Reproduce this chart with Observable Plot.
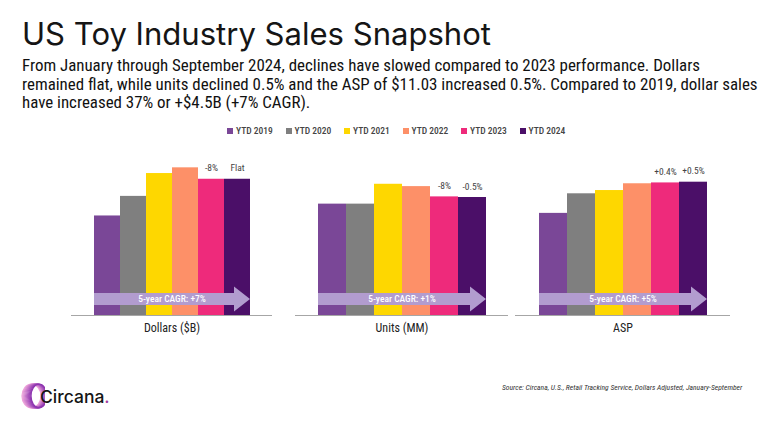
<!DOCTYPE html>
<html>
<head>
<meta charset="utf-8">
<script src="https://cdn.jsdelivr.net/npm/d3@7"></script>
<script src="https://cdn.jsdelivr.net/npm/@observablehq/plot@0.6"></script>
<style>
  body { margin: 0; background: #fff; }
  #page { position: relative; width: 768px; height: 432px; overflow: hidden; background: #fff;
          font-family: "Roboto Condensed", "Liberation Sans Narrow", "DejaVu Sans Condensed", Roboto, sans-serif; color: #111; }
  #title { position: absolute; left: 22px; top: 14px; font-family: Inter, Lato, "Open Sans", sans-serif;
           font-weight: 400; font-size: 31px; line-height: 40px; white-space: nowrap; transform-origin: left top; color: #151515; }
  #subtitle { position: absolute; left: 22px; top: 57px; font-size: 16px; line-height: 18.5px; }
  #subtitle div { white-space: nowrap; transform-origin: left top; }
  #legend { position: absolute; top: 125px; left: 227px; display: flex; font-size: 9.5px; font-weight: 500; color: #444; }
  #legend .item { width: 58.5px; display: flex; align-items: center; white-space: nowrap; }
  #legend .sw { width: 6px; height: 6px; margin-right: 3px; }
  #source { position: absolute; left: 502px; top: 383px; font-size: 7.6px; font-style: italic; color: #333; white-space: nowrap; }
  #logo { position: absolute; left: 21px; top: 383px; display: flex; align-items: center; }
  #logo span { font-family: Inter, "Open Sans", Lato, sans-serif; font-size: 17.5px; font-weight: 500; color: #151515; margin-left: -5px; }
  #logo b { color: #a23c9e; font-weight: 500; }
</style>
</head>
<body>
<div id="page">
  <div id="title"></div>
  <div id="subtitle"></div>
  <div id="legend"></div>
  <div id="panels"></div>
  <div id="logo"></div>
  <div id="source">Source: Circana, U.S., Retail Tracking Service, Dollars Adjusted, January-September</div>
</div>
<script>
// ---- data ----
const years = ["YTD 2019", "YTD 2020", "YTD 2021", "YTD 2022", "YTD 2023", "YTD 2024"];
const yearColors = ["#7a4797", "#7f7f7f", "#fed700", "#fd9068", "#ee2a7b", "#4b0f68"];

const dollars = [12.2, 14.6, 17.4, 18.1, 16.7, 16.7];      // $B
const units = [1430, 1430, 1685, 1655, 1523, 1515];        // MM
const asp = [8.45, 10.07, 10.34, 10.90, 10.97, 11.03];     // $

const dollarsNotes = ["", "", "", "", "-8%", "Flat"];
const unitsNotes = ["", "", "", "", "-8%", "-0.5%"];
const aspNotes = ["", "", "", "", "+0.4%", "+0.5%"];

const panelTitles = ["Dollars ($B)", "Units (MM)", "ASP"];
const cagrLabels = ["5-year CAGR: +7%", "5-year CAGR: +1%", "5-year CAGR: +5%"];

const titleText = "US Toy Industry Sales Snapshot";
const subtitleLines = [
  "From January through September 2024, declines have slowed compared to 2023 performance. Dollars",
  "remained flat, while units declined 0.5% and the ASP of $11.03 increased 0.5%. Compared to 2019, dollar sales",
  "have increased 37% or +$4.5B (+7% CAGR)."
];

// ---- layout ----
const panelLayout = [
  { left: 71,  width: 201, insetLeft: 21, insetRight: 20, ymax: 21.45 },
  { left: 295, width: 213, insetLeft: 22, insetRight: 22, ymax: 2247 },
  { left: 515, width: 215, insetLeft: 23, insetRight: 22, ymax: 14.48 }
];
const fontStack = '"Roboto Condensed", "Liberation Sans Narrow", "DejaVu Sans Condensed", Roboto, sans-serif';

// title & subtitle, fitted to their line widths
const title = document.getElementById("title");
title.textContent = titleText;
const sub = document.getElementById("subtitle");
const lineDivs = subtitleLines.map(t => { const d = document.createElement("div"); d.textContent = t; sub.appendChild(d); return d; });
function naturalWidth(el) {
  el.style.display = "inline-block";
  const w = el.getBoundingClientRect().width;
  el.style.display = "block";
  return w;
}
title.style.transform = `scaleX(${469 / naturalWidth(title)})`;
{
  const k = 678 / naturalWidth(lineDivs[0]);
  lineDivs.forEach(d => d.style.transform = `scaleX(${k})`);
}

// legend
const legend = document.getElementById("legend");
years.forEach((y, i) => {
  const item = document.createElement("div");
  item.className = "item";
  item.innerHTML = `<div class="sw" style="background:${yearColors[i]}"></div>${y}`;
  legend.appendChild(item);
});

// panels
const series = [dollars, units, asp];
const notes = [dollarsNotes, unitsNotes, aspNotes];
const panelsDiv = document.getElementById("panels");
const height = 205, marginBottom = 30;

series.forEach((values, p) => {
  const L = panelLayout[p];
  const rows = years.map((year, i) => ({ year, value: values[i], note: notes[p][i] }));
  const chart = Plot.plot({
    width: L.width,
    height,
    marginLeft: 0, marginRight: 0, marginTop: 0, marginBottom,
    style: { fontFamily: fontStack, background: "transparent", overflow: "visible" },
    x: { domain: years, padding: 0, insetLeft: L.insetLeft, insetRight: L.insetRight, axis: null },
    y: { domain: [0, L.ymax], axis: null },
    color: { domain: years, range: yearColors },
    marks: [
      Plot.barY(rows, { x: "year", y: "value", fill: "year" }),
      Plot.ruleY([0], { stroke: "#a6a6a6", strokeWidth: 1 }),
      Plot.text(rows, { x: "year", y: "value", text: "note", dy: -11, fill: "#444", fontSize: 9.5 }),
      Plot.text([panelTitles[p]], { frameAnchor: "bottom", dy: 16, fill: "#222", fontSize: 12 })
    ]
  });

  // CAGR arrow spanning the bars
  const sx = chart.scale("x"), sy = chart.scale("y");
  const left = sx.apply(years[0]);
  const right = sx.apply(years[years.length - 1]) + sx.bandwidth;
  const base = sy.apply(0);
  const g = d3.select(chart).append("g");
  g.append("path")
    .attr("d", `M${left},${base - 22}H${right - 16}V${base - 28.5}L${right},${base - 16}L${right - 16},${base - 3.5}V${base - 10}H${left}Z`)
    .attr("fill", "#b29ccf");
  g.append("text")
    .attr("x", (left + right) / 2)
    .attr("y", base - 16)
    .attr("dy", "0.35em")
    .attr("text-anchor", "middle")
    .attr("fill", "#fff")
    .attr("font-size", 9.5)
    .attr("font-weight", 500)
    .text(cagrLabels[p]);

  chart.style.position = "absolute";
  chart.style.left = L.left + "px";
  chart.style.top = "140px";
  panelsDiv.appendChild(chart);
});

// logo: stacked rings + wordmark
const logo = document.getElementById("logo");
const ringSvg = d3.create("svg").attr("width", 24).attr("height", 26);
const ringColors = d3.quantize(d3.interpolateRgb("#f0a8dc", "#8e35b0"), 11);
ringColors.forEach((c, i) => {
  ringSvg.append("ellipse").attr("cx", 10.5 + i * 0.75).attr("cy", 13).attr("rx", 9.5 - i * 0.15).attr("ry", 11.8)
    .attr("fill", "none").attr("stroke", c).attr("stroke-width", 1.3);
});
logo.appendChild(ringSvg.node());
const word = document.createElement("span");
word.innerHTML = "Circana<b>.</b>";
logo.appendChild(word);
</script>
</body>
</html>
